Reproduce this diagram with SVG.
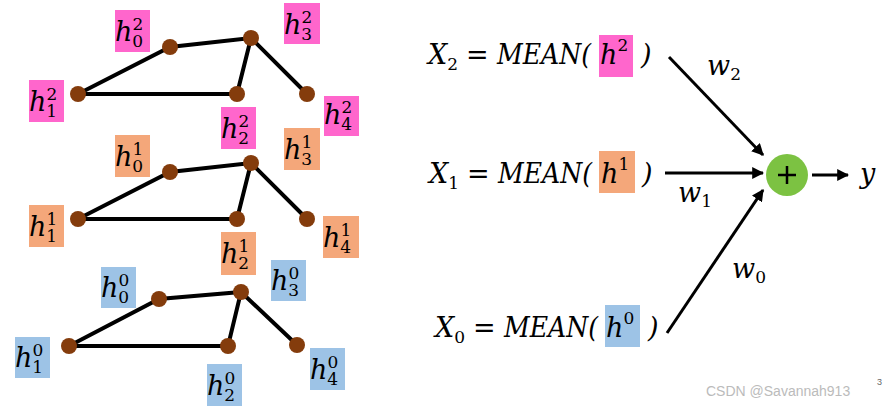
<svg xmlns="http://www.w3.org/2000/svg" width="885" height="406" viewBox="0 0 885 406">
<defs>
<style>
.e{stroke:#000;stroke-width:4;fill:none}
.n{fill:#843C0C}
.m{font-family:"DejaVu Serif",serif;font-style:italic;font-size:27px;fill:#000}
.s{font-size:17px;font-style:normal}
.p{fill:#FF66CC}.o{fill:#F4A77A}.b{fill:#9DC3E6}
.a{stroke:#000;stroke-width:3;fill:none;marker-end:url(#ar)}
</style>
<marker id="ar" viewBox="0 0 10 10" refX="9" refY="5" markerWidth="4" markerHeight="4" orient="auto"><path d="M0,0L10,5L0,10z"/></marker>
</defs>
<rect width="885" height="406" fill="#fff"/>
<g id="edges">
<path class="e" d="M78,94L170,47L251,38L237,94L78,94M251,38L307,94"/>
<path class="e" d="M78,219L170,172L251,163L237,219L78,219M251,163L307,219"/>
<path class="e" d="M69,346L159,299L241,292L228,346L69,346M241,292L297,345"/>
</g>
<g id="layer2">
<circle class="n" cx="170" cy="47" r="8"/><circle class="n" cx="251" cy="38" r="8"/><circle class="n" cx="78" cy="94" r="8"/><circle class="n" cx="237" cy="94" r="8"/><circle class="n" cx="307" cy="94" r="8"/>
<rect class="p" x="115" y="10" width="35" height="42"/><rect class="p" x="284" y="3" width="36" height="41"/><rect class="p" x="29" y="80" width="35" height="42"/><rect class="p" x="324" y="96" width="35" height="40"/><rect class="p" x="221" y="107" width="35" height="42"/>
<text class="m" x="115" y="41">h<tspan class="s" dy="-11">2</tspan><tspan class="s" dx="-11" dy="17">0</tspan></text>
<text class="m" x="284" y="34">h<tspan class="s" dy="-11">2</tspan><tspan class="s" dx="-11" dy="17">3</tspan></text>
<text class="m" x="29" y="111">h<tspan class="s" dy="-11">2</tspan><tspan class="s" dx="-11" dy="17">1</tspan></text>
<text class="m" x="324" y="124">h<tspan class="s" dy="-11">2</tspan><tspan class="s" dx="-11" dy="17">4</tspan></text>
<text class="m" x="221" y="138">h<tspan class="s" dy="-11">2</tspan><tspan class="s" dx="-11" dy="17">2</tspan></text>
</g>
<g id="layer1">
<circle class="n" cx="170" cy="172" r="8"/><circle class="n" cx="251" cy="163" r="8"/><circle class="n" cx="78" cy="219" r="8"/><circle class="n" cx="237" cy="219" r="8"/><circle class="n" cx="307" cy="219" r="8"/>
<rect class="o" x="115" y="135" width="35" height="42"/><rect class="o" x="284" y="128" width="36" height="42"/><rect class="o" x="29" y="205" width="35" height="42"/><rect class="o" x="323" y="216" width="36" height="42"/><rect class="o" x="221" y="232" width="35" height="43"/>
<text class="m" x="115" y="166">h<tspan class="s" dy="-11">1</tspan><tspan class="s" dx="-11" dy="17">0</tspan></text>
<text class="m" x="284" y="159">h<tspan class="s" dy="-11">1</tspan><tspan class="s" dx="-11" dy="17">3</tspan></text>
<text class="m" x="29" y="236">h<tspan class="s" dy="-11">1</tspan><tspan class="s" dx="-11" dy="17">1</tspan></text>
<text class="m" x="323" y="247">h<tspan class="s" dy="-11">1</tspan><tspan class="s" dx="-11" dy="17">4</tspan></text>
<text class="m" x="221" y="263">h<tspan class="s" dy="-11">1</tspan><tspan class="s" dx="-11" dy="17">2</tspan></text>
</g>
<g id="layer0">
<circle class="n" cx="159" cy="299" r="8"/><circle class="n" cx="241" cy="292" r="8"/><circle class="n" cx="69" cy="346" r="8"/><circle class="n" cx="228" cy="346" r="8"/><circle class="n" cx="297" cy="345" r="8"/>
<rect class="b" x="101" y="267" width="35" height="41"/><rect class="b" x="271" y="260" width="35" height="41"/><rect class="b" x="15" y="337" width="35" height="41"/><rect class="b" x="310" y="348" width="35" height="42"/><rect class="b" x="207" y="364" width="35" height="42"/>
<text class="m" x="101" y="297">h<tspan class="s" dy="-11">0</tspan><tspan class="s" dx="-11" dy="17">0</tspan></text>
<text class="m" x="271" y="290">h<tspan class="s" dy="-11">0</tspan><tspan class="s" dx="-11" dy="17">3</tspan></text>
<text class="m" x="15" y="367">h<tspan class="s" dy="-11">0</tspan><tspan class="s" dx="-11" dy="17">1</tspan></text>
<text class="m" x="310" y="379">h<tspan class="s" dy="-11">0</tspan><tspan class="s" dx="-11" dy="17">4</tspan></text>
<text class="m" x="207" y="395">h<tspan class="s" dy="-11">0</tspan><tspan class="s" dx="-11" dy="17">2</tspan></text>
</g>
<g id="x2">
<rect class="p" x="599" y="35" width="34" height="42"/>
<text class="m" x="428" y="64">X<tspan class="s" dy="6">2</tspan></text>
<text class="m" x="466" y="64">=</text>
<text class="m" x="497" y="64" textLength="94" lengthAdjust="spacingAndGlyphs">MEAN(</text>
<text class="m" x="600" y="64">h<tspan class="s" dy="-13">2</tspan></text>
<text class="m" x="641" y="64">)</text>
</g>
<g id="x1">
<rect class="o" x="599" y="151" width="36" height="42"/>
<text class="m" x="429" y="183">X<tspan class="s" dy="6">1</tspan></text>
<text class="m" x="467" y="183">=</text>
<text class="m" x="498" y="183" textLength="94" lengthAdjust="spacingAndGlyphs">MEAN(</text>
<text class="m" x="601" y="183">h<tspan class="s" dy="-13">1</tspan></text>
<text class="m" x="642" y="183">)</text>
</g>
<g id="x0">
<rect class="b" x="605" y="305" width="35" height="42"/>
<text class="m" x="435" y="337">X<tspan class="s" dy="6">0</tspan></text>
<text class="m" x="473" y="337">=</text>
<text class="m" x="504" y="337" textLength="94" lengthAdjust="spacingAndGlyphs">MEAN(</text>
<text class="m" x="606" y="337">h<tspan class="s" dy="-13">0</tspan></text>
<text class="m" x="648" y="337">)</text>
</g>
<g id="sum">
<circle cx="787" cy="175" r="21" fill="#7CC242"/>
<path d="M778,175h18M787,166v18" stroke="#000" stroke-width="2.5"/>
</g>
<g id="connectors">
<line class="a" x1="669" y1="57" x2="763" y2="155"/>
<line class="a" x1="665" y1="173" x2="763" y2="173"/>
<line class="a" x1="667" y1="333" x2="763" y2="190"/>
<line class="a" x1="812" y1="175" x2="848" y2="175"/>
</g>
<text class="m" x="707" y="75">w<tspan class="s" dy="5">2</tspan></text>
<text class="m" x="678" y="202">w<tspan class="s" dy="5">1</tspan></text>
<text class="m" x="732" y="278">w<tspan class="s" dy="5">0</tspan></text>
<text class="m" x="860" y="183">y</text>
<text x="706" y="396" font-family="Liberation Sans,sans-serif" font-size="14" fill="#bbb">CSDN @Savannah913</text>
<text x="877" y="385" font-family="Liberation Sans,sans-serif" font-size="9" fill="#666">3</text>
</svg>
